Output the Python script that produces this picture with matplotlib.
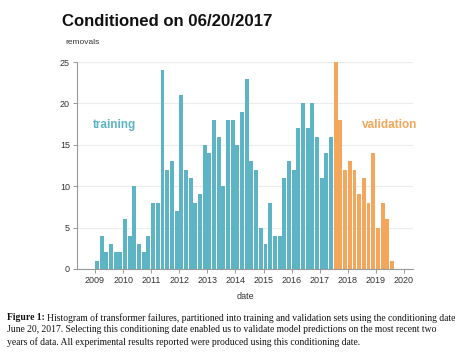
import matplotlib
matplotlib.use("Agg")
import matplotlib.pyplot as plt
import numpy as np

# Bimonthly removal counts starting Jan 2009
training = [1, 4, 2, 3, 2, 2, 6, 4, 10, 3, 2, 4, 8, 8, 24, 12, 13, 7,
            21, 12, 11, 8, 9, 15, 14, 18, 16, 10, 18, 18, 15, 19, 23, 13, 12, 5,
            3, 8, 4, 4, 11, 13, 12, 17, 20, 17, 20, 16, 11, 14, 16]
validation = [25, 18, 12, 13, 12, 9, 11, 8, 14, 5, 8, 6, 1]
start_year = 2009
year_ticks = list(range(2009, 2021))
y_ticks = [0, 5, 10, 15, 20, 25]

blue = "#5cb4c4"
orange = "#f4a65a"
bin_w = 1 / 6

plt.rcParams['font.family'] = ['Liberation Sans', 'DejaVu Sans']
fig = plt.figure(figsize=(4.74, 3.55), dpi=100)
ax = fig.add_axes([77/474, 86/355, 336/474, 207/355])

n_tr = len(training)
x_tr = start_year + np.arange(n_tr) * bin_w
x_va = start_year + (n_tr + np.arange(len(validation))) * bin_w
ax.bar(x_tr, training, width=bin_w * 0.84, align='edge', color=blue, zorder=2)
ax.bar(x_va, validation, width=bin_w * 0.84, align='edge', color=orange, zorder=2)

ax.set_xlim(2008.36, 2020.32)
ax.set_ylim(0, 25)
ax.set_xticks(year_ticks)
ax.set_xticklabels([str(y) for y in year_ticks])
ax.set_yticks(y_ticks)
ax.yaxis.grid(True, color='#ececec', linewidth=0.8, zorder=0)
ax.set_axisbelow(True)
for s in ['top', 'right']:
    ax.spines[s].set_visible(False)
for s in ['left', 'bottom']:
    ax.spines[s].set_color('#9a9a9a')
    ax.spines[s].set_linewidth(0.8)
ax.tick_params(axis='both', colors='#9a9a9a', labelcolor='#333333',
               labelsize=6.5, length=3, width=0.7, pad=2)
ax.set_xlabel('date', fontsize=6.5, color='#333333', labelpad=5)

ax.text(2008.93, 17.4, 'training', color=blue, fontsize=8.5, fontweight='bold',
        va='center', ha='left')
ax.text(2018.5, 17.4, 'validation', color=orange, fontsize=8.5, fontweight='bold',
        va='center', ha='left')

fig.text(62/474, 1 - 22/355, 'Conditioned on 06/20/2017', fontsize=12.1,
         fontweight='bold', va='center', ha='left', color='#111111')
fig.text(65/474, 1 - 43/355, 'removals', fontsize=6, va='center', ha='left',
         color='#333333')

# caption
cap_font = ['Liberation Serif', 'DejaVu Serif']
cap_size = 6.95
x0 = 7/474
t = fig.text(x0, 1 - 318/355, 'Figure 1:', fontsize=cap_size, fontweight='bold',
             family=cap_font, va='center', ha='left', color='#111111')
fig.canvas.draw()
r = fig.canvas.get_renderer()
bb = t.get_window_extent(renderer=r)
fig.text((bb.x1 + 2.5) / 474, 1 - 318/355,
         'Histogram of transformer failures, partitioned into training and validation sets using the conditioning date',
         fontsize=cap_size, family=cap_font, va='center', ha='left', color='#111111')
fig.text(x0, 1 - 330/355,
         'June 20, 2017. Selecting this conditioning date enabled us to validate model predictions on the most recent two',
         fontsize=cap_size, family=cap_font, va='center', ha='left', color='#111111')
fig.text(x0, 1 - 342/355,
         'years of data. All experimental results reported were produced using this conditioning date.',
         fontsize=cap_size, family=cap_font, va='center', ha='left', color='#111111')

fig.savefig('out.png', dpi=100)
